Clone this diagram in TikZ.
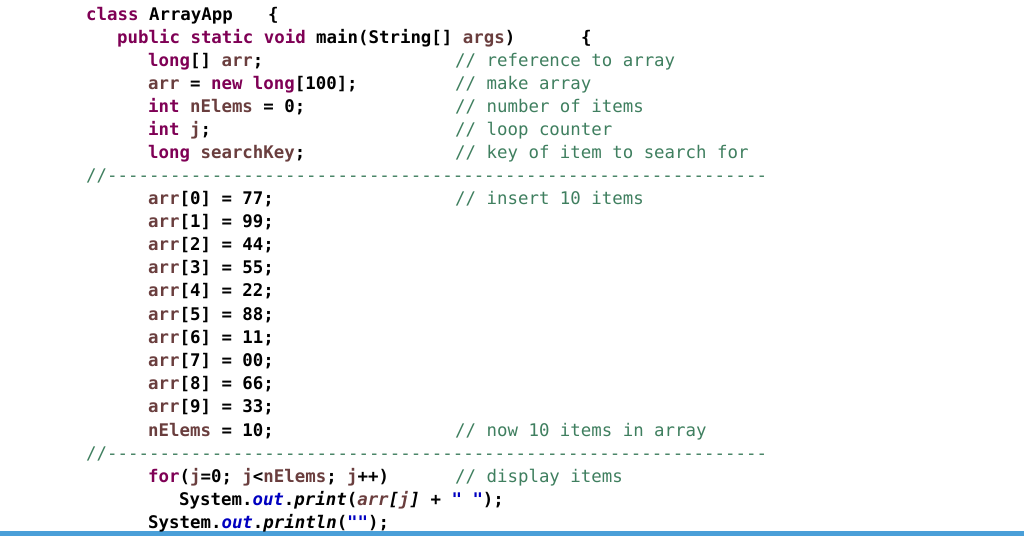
\documentclass[tikz,border=0pt]{standalone}
\usepackage{fontspec}
\setmonofont{DejaVu Sans Mono}
\definecolor{kwc}{HTML}{7F0055}
\definecolor{cmc}{HTML}{3F7F5F}
\definecolor{vrc}{HTML}{6A3E3E}
\definecolor{flc}{HTML}{0000C0}
\definecolor{barc}{HTML}{4A9FD8}
\newcommand{\kw}[1]{\textcolor{kwc}{\bfseries #1}}
\newcommand{\vr}[1]{\textcolor{vrc}{#1}}
\newcommand{\fl}[1]{\textcolor{flc}{\itshape #1}}
\begin{document}
\begin{tikzpicture}[x=1pt,y=-1pt,
  code/.style={anchor=base west,inner sep=0pt,font=\fontsize{17.4}{20}\ttfamily\bfseries},
  cmt/.style={anchor=base west,inner sep=0pt,text=cmc,font=\fontsize{17.4}{20}\ttfamily}]
\useasboundingbox (0,0) rectangle (1024,536);
\fill[white] (0,0) rectangle (1024,536);
\fill[barc] (0,531) rectangle (1024,536);
\node[code] (l1) at (86,20) {\kw{class} ArrayApp};
\node[code] (b1) at (268,20) {\{};
\node[code] (l2) at (117,43) {\kw{public} \kw{static} \kw{void} main(String[] \vr{args})};
\node[code] (b2) at (581,43) {\{};
\node[code] (l3) at (148,66) {\kw{long}[] \vr{arr};};
\node[cmt] (c3) at (455,66) {// reference to array};
\node[code] (l4) at (148,89) {\vr{arr} = \kw{new} \kw{long}[100];};
\node[cmt] (c4) at (455,89) {// make array};
\node[code] (l5) at (148,112) {\kw{int} \vr{nElems} = 0;};
\node[cmt] (c5) at (455,112) {// number of items};
\node[code] (l6) at (148,135) {\kw{int} \vr{j};};
\node[cmt] (c6) at (455,135) {// loop counter};
\node[code] (l7) at (148,158) {\kw{long} \vr{searchKey};};
\node[cmt] (c7) at (455,158) {// key of item to search for};
\node[cmt] (d1) at (86,181) {//---------------------------------------------------------------};
\foreach \i/\v [count=\k from 0] in {0/77,1/99,2/44,3/55,4/22,5/88,6/11,7/00,8/66,9/33}
  \node[code] (a\i) at (148,{204+23.2*\k}) {\vr{arr}[\i] = \v;};
\node[cmt] (c8) at (455,204) {// insert 10 items};
\node[code] (l8) at (148,436) {\vr{nElems} = 10;};
\node[cmt] (c9) at (455,436) {// now 10 items in array};
\node[cmt] (d2) at (86,459) {//---------------------------------------------------------------};
\node[code] (l9) at (148,482) {\kw{for}(\vr{j}=0; \vr{j}<\vr{nElems}; \vr{j}++)};
\node[cmt] (c10) at (455,482) {// display items};
\node[code] (l10) at (179,505) {System.\fl{out}.{\itshape print}({\itshape\vr{arr}[\vr{j}]} + \textcolor{flc}{" "});};
\node[code] (l11) at (148,528) {System.\fl{out}.{\itshape println}(\textcolor{flc}{""});};
\end{tikzpicture}
\end{document}
